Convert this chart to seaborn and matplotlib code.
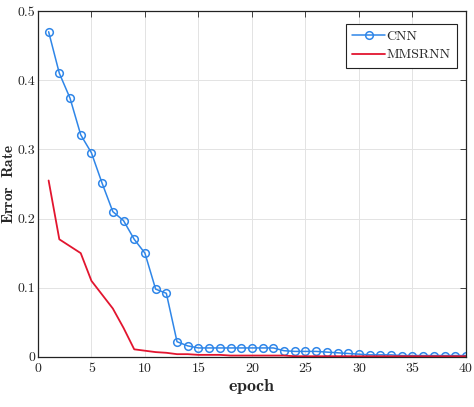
import matplotlib
matplotlib.use("Agg")
import matplotlib.pyplot as plt
import seaborn as sns
import pandas as pd

epochs = list(range(1, 41))
cnn = [0.470, 0.410, 0.374, 0.321, 0.295, 0.251, 0.210, 0.197, 0.170, 0.150,
       0.098, 0.092, 0.022, 0.016, 0.013, 0.013, 0.013, 0.013, 0.013, 0.013,
       0.013, 0.013, 0.009, 0.008, 0.008, 0.008, 0.007, 0.006, 0.005, 0.004,
       0.003, 0.003, 0.003, 0.002, 0.002, 0.002, 0.002, 0.002, 0.002, 0.002]
mmsrnn = [0.255, 0.170, 0.160, 0.150, 0.110, 0.090, 0.070, 0.042, 0.011, 0.009,
          0.007, 0.006, 0.004, 0.004, 0.003, 0.003, 0.003, 0.002, 0.002, 0.002,
          0.002, 0.002, 0.002, 0.001, 0.001, 0.001, 0.001, 0.001, 0.001, 0.001,
          0.001, 0.001, 0.001, 0.001, 0.001, 0.001, 0.001, 0.001, 0.001, 0.001]
xticks = [0, 5, 10, 15, 20, 25, 30, 35, 40]
yticks = [0, 0.1, 0.2, 0.3, 0.4, 0.5]
ytick_labels = ["0", "0.1", "0.2", "0.3", "0.4", "0.5"]

sns.set_style("white")
plt.rcParams['font.family'] = ['cmr10', 'DejaVu Serif']
plt.rcParams['mathtext.fontset'] = 'cm'
plt.rcParams['axes.formatter.use_mathtext'] = True

df = pd.DataFrame({"epoch": epochs, "CNN": cnn, "MMSRNN": mmsrnn})

fig = plt.figure(figsize=(4.74, 4.07), dpi=100)
ax = fig.add_axes([0.080, 0.123, 0.903, 0.850])

sns.lineplot(data=df, x="epoch", y="CNN", ax=ax, color="#2f86e8", lw=1.1,
             marker="o", markersize=5.5, markerfacecolor="none",
             markeredgecolor="#2f86e8", markeredgewidth=1.1, label="CNN")
sns.lineplot(data=df, x="epoch", y="MMSRNN", ax=ax, color="#e2152f", lw=1.3,
             label="MMSRNN")

ax.set_xlim(0, 40)
ax.set_ylim(0, 0.5)
ax.set_xticks(xticks)
ax.set_yticks(yticks)
ax.set_xticklabels([str(t) for t in xticks])
ax.set_yticklabels(ytick_labels)
ax.grid(True, color="#e3e3e3", lw=0.7)
ax.tick_params(direction="in", top=True, right=True, length=4, width=0.6,
               labelsize=10, pad=4)
ax.tick_params(axis="y", pad=2)
for s in ax.spines.values():
    s.set_color("#222222")
    s.set_linewidth(0.9)
ax.set_xlabel(r"$\mathbf{epoch}$", fontsize=13, labelpad=2)
ax.set_ylabel(r"$\mathbf{Error\ \ Rate}$", fontsize=11)
ax.yaxis.set_label_coords(-0.052, 0.5)

leg = ax.legend(loc="upper right", bbox_to_anchor=(0.979, 0.962), fancybox=False,
                edgecolor="#222222", framealpha=1, fontsize=10,
                handlelength=2.4, borderpad=0.45, labelspacing=0.4,
                handletextpad=0.1, borderaxespad=0)
leg.get_frame().set_linewidth(0.8)

fig.savefig("out.png", dpi=100)
